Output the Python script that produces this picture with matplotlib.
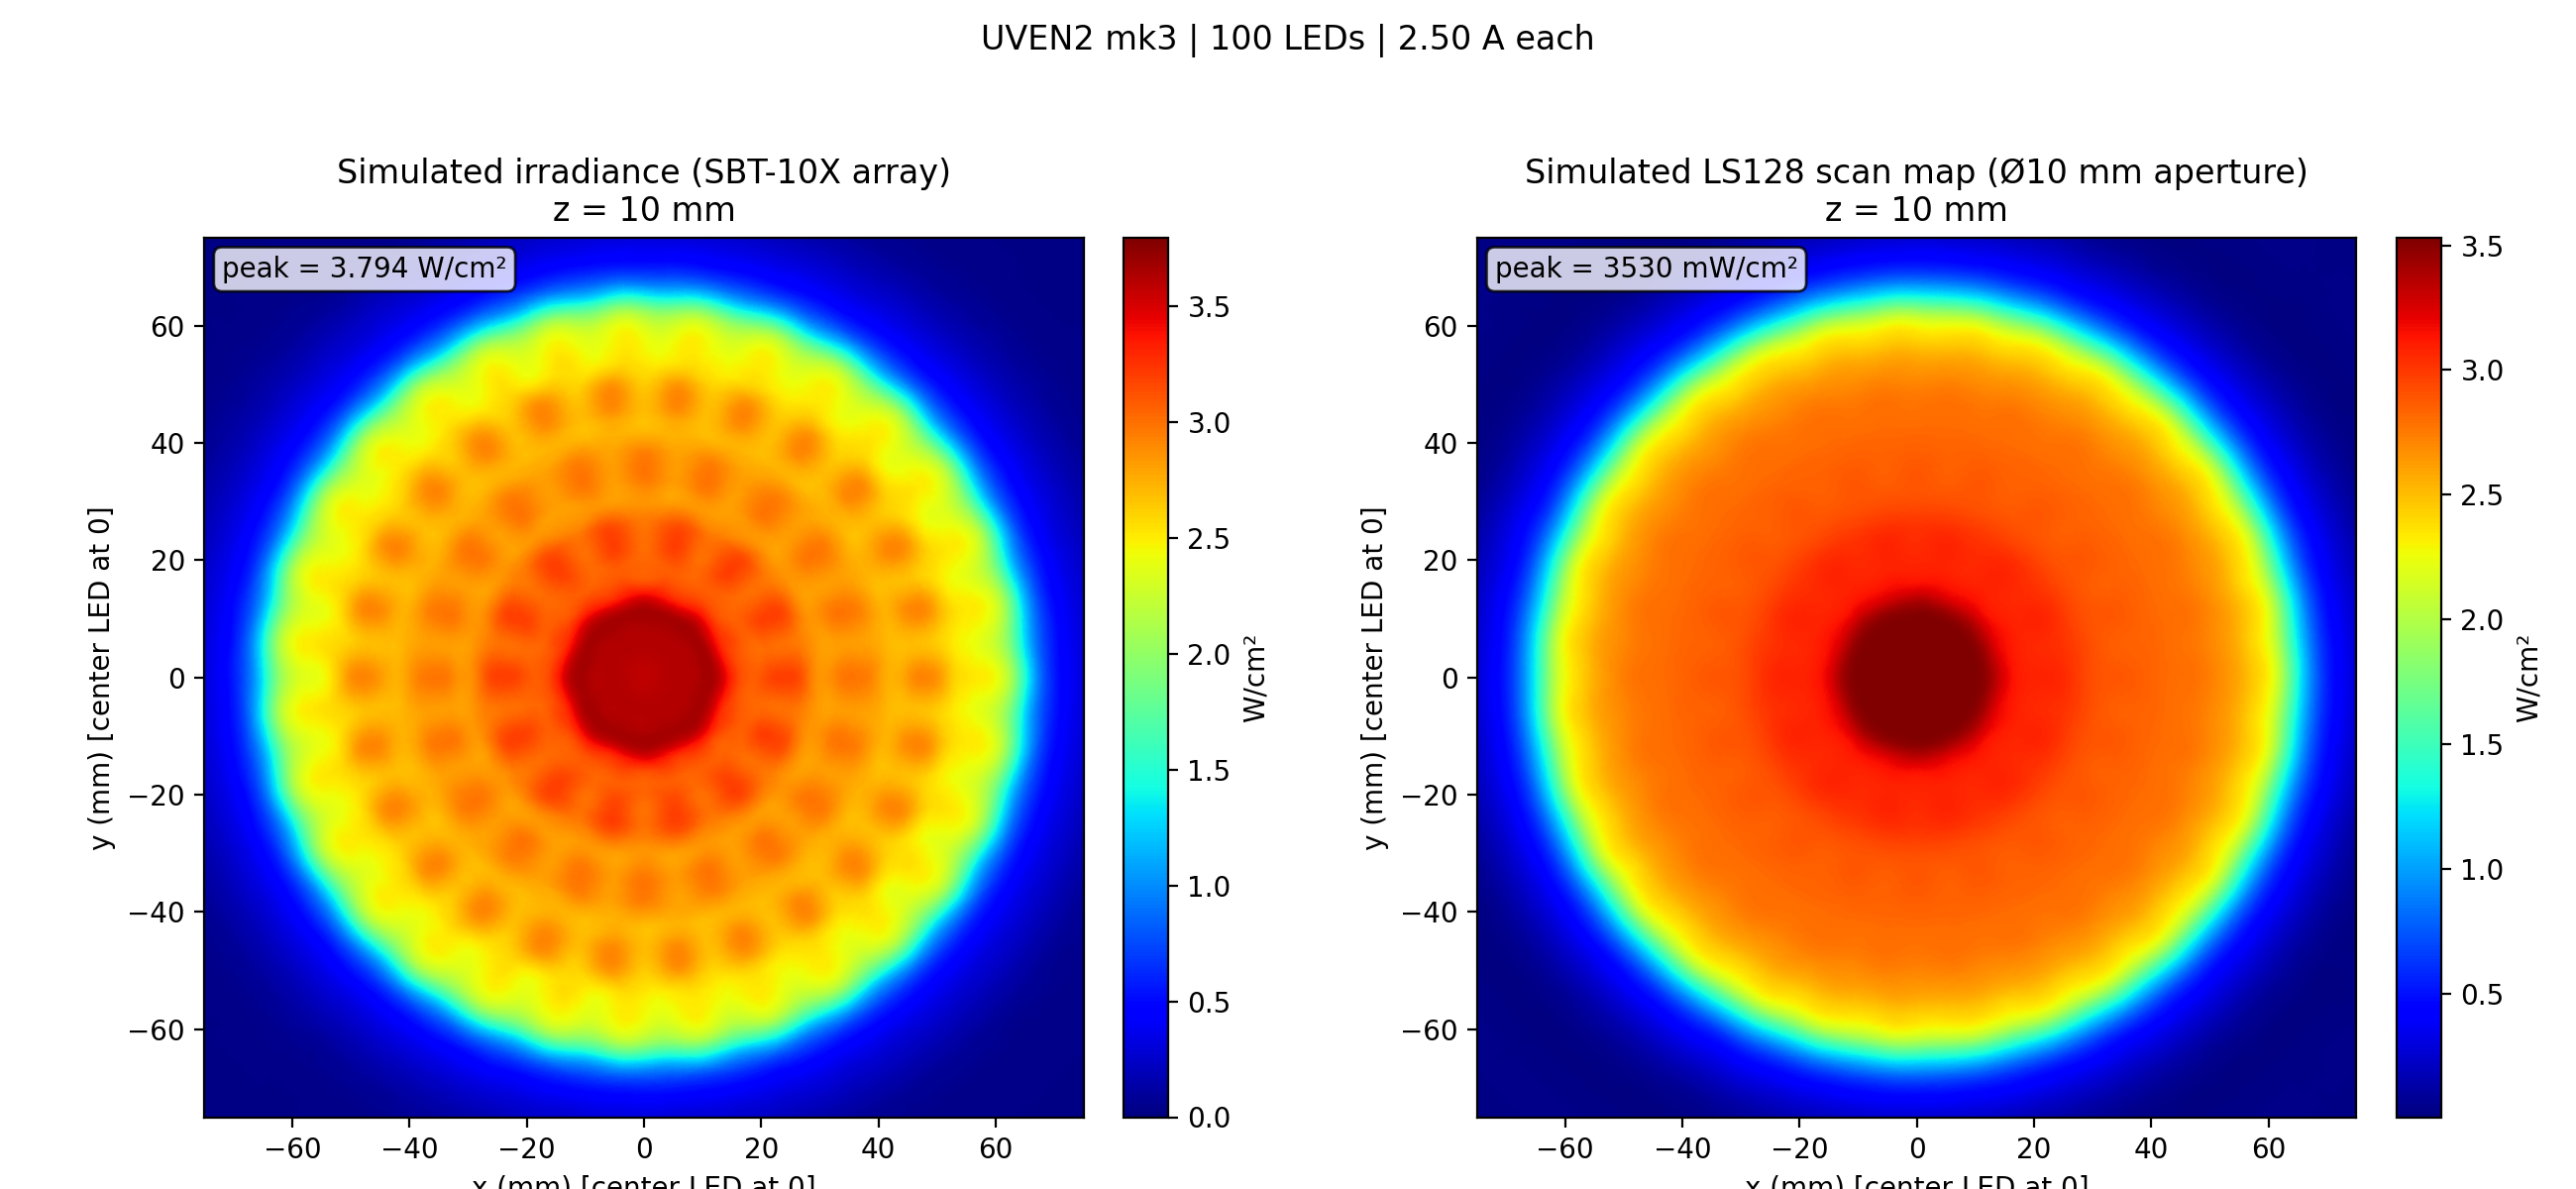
# -*- coding: utf-8 -*-
import numpy as np
import matplotlib
matplotlib.use('Agg')
import matplotlib.pyplot as plt
import matplotlib.tri as mtri

# Sampled irradiance per radius (mm): n = LEDs on the nearest ring,
# spot = value in line with an LED, gap = value halfway between two LEDs
left_r = [6, 10, 12, 14, 16, 18, 21, 24, 27, 30, 33, 36, 39, 42, 45, 48, 51, 54, 58, 61, 63, 65, 67, 70, 72, 76, 82, 90, 110]
left_n = [8, 8, 8, 8, 14, 14, 14, 14, 14, 20, 20, 20, 20, 26, 26, 26, 26, 31, 31, 31, 31, 31, 31, 31, 31, 31, 31, 31, 31]
left_spot = [3.62, 3.66, 3.64, 3.42, 3.18, 3.08, 3.15, 3.20, 3.10, 2.85, 2.93, 2.98, 2.90, 2.74, 2.83, 2.92, 2.78,
             2.56, 2.50, 2.34, 2.02, 1.50, 1.02, 0.58, 0.44, 0.28, 0.12, 0.04, 0.02]
left_gap = [3.62, 3.66, 3.60, 3.32, 3.14, 3.05, 3.02, 3.00, 2.95, 2.83, 2.81, 2.82, 2.79, 2.71, 2.69, 2.68, 2.60,
            2.48, 2.36, 2.16, 1.84, 1.36, 0.95, 0.58, 0.44, 0.28, 0.12, 0.04, 0.02]
left_center = 3.58

right_r = [6, 10, 12, 14, 16, 18, 21, 24, 27, 30, 33, 36, 39, 42, 45, 48, 51, 54, 56, 58, 61, 63, 65, 67, 69, 71, 75, 80, 90, 110]
right_n = [8, 8, 8, 8, 14, 14, 14, 14, 14, 20, 20, 20, 20, 26, 26, 26, 26, 31, 31, 31, 31, 31, 31, 31, 31, 31, 31, 31, 31, 31]
right_spot = [3.53, 3.52, 3.46, 3.30, 3.16, 3.10, 3.08, 3.07, 3.00, 2.92, 2.89, 2.88, 2.85, 2.82, 2.80, 2.78, 2.71,
              2.62, 2.53, 2.43, 2.20, 1.82, 1.36, 0.97, 0.67, 0.48, 0.27, 0.10, 0.02, 0.01]
right_gap = [3.53, 3.52, 3.45, 3.27, 3.15, 3.09, 3.06, 3.04, 2.99, 2.92, 2.87, 2.85, 2.84, 2.82, 2.79, 2.76, 2.69,
             2.60, 2.50, 2.39, 2.14, 1.76, 1.32, 0.95, 0.66, 0.48, 0.27, 0.10, 0.02, 0.01]
right_center = 3.53

left_vmin, left_vmax = 0.0, 3.794
right_vmin, right_vmax = 0.004, 3.53

xy_ticks = [-60, -40, -20, 0, 20, 40, 60]
left_cbar_ticks = [0.0, 0.5, 1.0, 1.5, 2.0, 2.5, 3.0, 3.5]
right_cbar_ticks = [0.5, 1.0, 1.5, 2.0, 2.5, 3.0, 3.5]


def draw_map(ax, cax, radii, counts, spot, gap, center, vmin, vmax, cticks, title, note):
    # spot and gap samples alternate around each ring
    xs, ys, zs = [0.0], [0.0], [center]
    for r, n, s, g in zip(radii, counts, spot, gap):
        ang = np.arange(2 * n) * np.pi / n
        xs.extend(r * np.cos(ang))
        ys.extend(r * np.sin(ang))
        zs.extend([s, g] * n)
    tri = mtri.Triangulation(xs, ys)
    refiner = mtri.UniformTriRefiner(tri)
    fine_tri, fine_z = refiner.refine_field(np.array(zs), subdiv=3)
    mesh = ax.tripcolor(fine_tri, fine_z, shading='gouraud', cmap='jet', vmin=vmin, vmax=vmax)
    ax.set_xlim(-75, 75)
    ax.set_ylim(-75, 75)
    ax.set_xticks(xy_ticks)
    ax.set_yticks(xy_ticks)
    ax.set_xlabel('x (mm) [center LED at 0]')
    ax.set_ylabel('y (mm) [center LED at 0]')
    ax.set_title(title + '\nz = 10 mm', fontsize=12)
    ax.text(0.02, 0.98, note, transform=ax.transAxes, va='top', ha='left', fontsize=10,
            bbox=dict(boxstyle='round', facecolor='white', edgecolor='black', alpha=0.8))
    cbar = plt.colorbar(mesh, cax=cax)
    cbar.set_ticks(cticks)
    cbar.set_label('W/cm²')


fig = plt.figure(figsize=(13, 6), dpi=200)
fig.suptitle('UVEN2 mk3 | 100 LEDs | 2.50 A each', fontsize=12)

W, H = 2600.0, 1200.0
ax1 = fig.add_axes([206.4 / W, 1 - 1127.5 / H, 887.3 / W, 887.5 / H])
cax1 = fig.add_axes([1134 / W, 1 - 1127.5 / H, 45 / W, 887.5 / H])
ax2 = fig.add_axes([1491 / W, 1 - 1127.5 / H, 887.3 / W, 887.5 / H])
cax2 = fig.add_axes([2419 / W, 1 - 1127.5 / H, 45 / W, 887.5 / H])

draw_map(ax1, cax1, left_r, left_n, left_spot, left_gap, left_center, left_vmin, left_vmax,
         left_cbar_ticks, 'Simulated irradiance (SBT-10X array)', 'peak = 3.794 W/cm²')
draw_map(ax2, cax2, right_r, right_n, right_spot, right_gap, right_center, right_vmin, right_vmax,
         right_cbar_ticks, 'Simulated LS128 scan map (Ø10 mm aperture)', 'peak = 3530 mW/cm²')

fig.savefig('out.png', dpi=200)
